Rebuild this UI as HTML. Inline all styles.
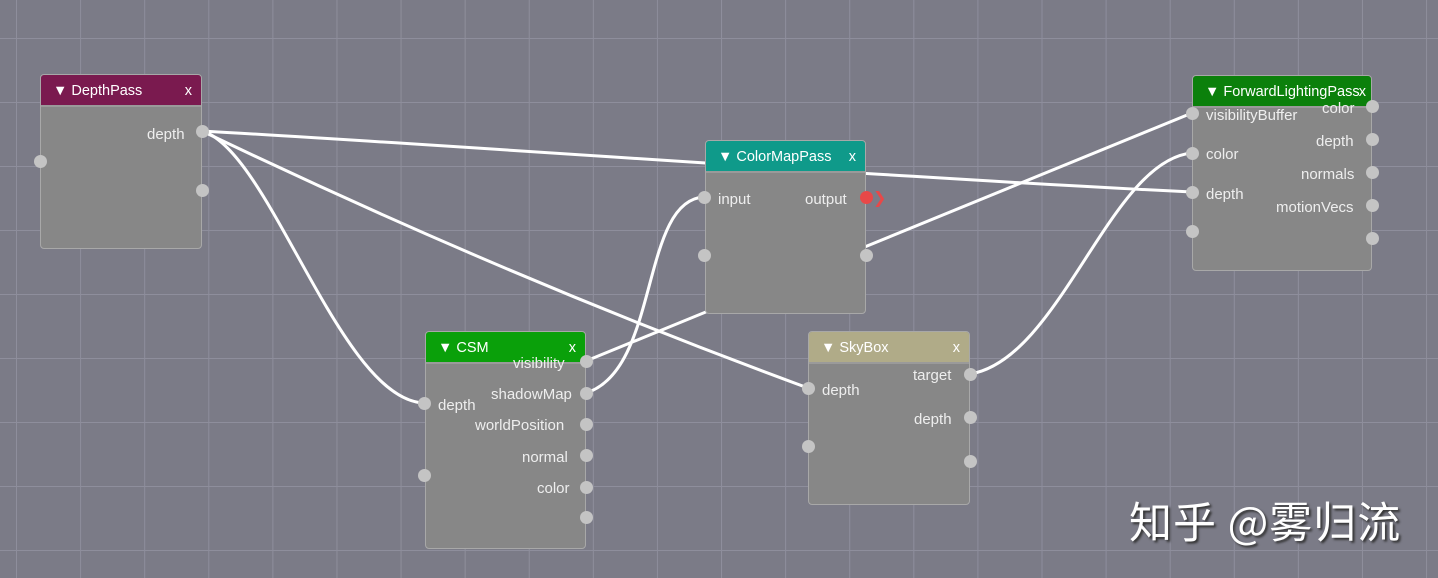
<!DOCTYPE html>
<html><head><meta charset="utf-8"><style>
body{margin:0;width:1438px;height:578px;overflow:hidden;background:#7b7b87;font-family:"Liberation Sans","DejaVu Sans",sans-serif;}
#bg{position:absolute;left:0;top:0;width:1438px;height:578px;
background-image:linear-gradient(to right,#8e8e9c 1px,transparent 1px),linear-gradient(to bottom,#8e8e9c 1px,transparent 1px);
background-size:64.1px 64px;background-position:16px 38px;}
.node{position:absolute;background:#878787;border:1px solid #a8a8a8;border-radius:4px;box-sizing:border-box;}
.hd{height:30px;border-radius:3px 3px 0 0;color:#fff;font-size:14.5px;line-height:32px;padding-left:12px;position:relative;border-bottom:2px solid #9a9a9a;}
.hd .x{position:absolute;right:9px;top:0;}
.lbl{position:absolute;color:#eee;font-size:15px;}
.p{position:absolute;width:13px;height:13px;border-radius:50%;background:#c4c4c4;margin:-6.5px 0 0 -6.5px;}
svg{position:absolute;left:0;top:0}
#wm{position:absolute;left:1129px;top:489px;font-family:"Noto Sans CJK SC",sans-serif;font-size:43px;color:#fff;text-shadow:2px 2px 2px #333;letter-spacing:1px;white-space:pre}
</style></head><body>
<div id="bg"></div>
<svg width="1438" height="578"><g fill="none" stroke="#fff" stroke-width="3">
<path d="M202 131 C500 148 900 178 1192 192"/>
<path d="M202 131 C270 150 340 400 424 403"/>
<path d="M202 131 C450 250 650 330 808 388"/>
<path d="M586 361 L1192 113"/>
<path d="M586 393 C660 370 640 200 704 197"/>
<path d="M970 374 C1060 360 1110 160 1192 153"/>
</g></svg>

<div class="node" style="left:40px;top:74px;width:162px;height:175px"><div class="hd" style="background:#7a1a4f">▼ DepthPass<span class="x">x</span></div></div>
<div class="node" style="left:705px;top:140px;width:161px;height:174px"><div class="hd" style="background:#0f9a8a">▼ ColorMapPass<span class="x">x</span></div></div>
<div class="node" style="left:1192px;top:75px;width:180px;height:196px"><div class="hd" style="background:#0b800b">▼ ForwardLightingPass<span class="x" style="right:5px">x</span></div></div>
<div class="node" style="left:425px;top:331px;width:161px;height:218px"><div class="hd" style="background:#0aa00a">▼ CSM<span class="x">x</span></div></div>
<div class="node" style="left:808px;top:331px;width:162px;height:174px"><div class="hd" style="background:#b0ab88">▼ SkyBox<span class="x">x</span></div></div>

<div class="lbl" style="left:147px;top:126px">depth</div>
<div class="lbl" style="left:718px;top:191px">input</div>
<div class="lbl" style="left:805px;top:191px">output</div>
<div class="lbl" style="left:1206px;top:107px">visibilityBuffer</div>
<div class="lbl" style="left:1206px;top:146px">color</div>
<div class="lbl" style="left:1206px;top:186px">depth</div>
<div class="lbl" style="left:1322px;top:100px">color</div>
<div class="lbl" style="left:1316px;top:133px">depth</div>
<div class="lbl" style="left:1301px;top:166px">normals</div>
<div class="lbl" style="left:1276px;top:199px">motionVecs</div>
<div class="lbl" style="left:513px;top:355px">visibility</div>
<div class="lbl" style="left:491px;top:386px">shadowMap</div>
<div class="lbl" style="left:475px;top:417px">worldPosition</div>
<div class="lbl" style="left:522px;top:449px">normal</div>
<div class="lbl" style="left:537px;top:480px">color</div>
<div class="lbl" style="left:438px;top:397px">depth</div>
<div class="lbl" style="left:822px;top:382px">depth</div>
<div class="lbl" style="left:913px;top:367px">target</div>
<div class="lbl" style="left:914px;top:411px">depth</div>

<div class="p" style="left:202px;top:131px"></div><div class="p" style="left:40px;top:161px"></div><div class="p" style="left:202px;top:190px"></div>
<div class="p" style="left:704px;top:197px"></div><div class="p" style="left:704px;top:255px"></div><div class="p" style="left:866px;top:255px"></div>
<div class="p" style="left:866px;top:197px;background:#e84848"></div>
<div style="position:absolute;left:873px;top:188px;color:#e84848;font-size:16px">❯</div>
<div class="p" style="left:1192px;top:113px"></div><div class="p" style="left:1192px;top:153px"></div><div class="p" style="left:1192px;top:192px"></div><div class="p" style="left:1192px;top:231px"></div>
<div class="p" style="left:1372px;top:106px"></div><div class="p" style="left:1372px;top:139px"></div><div class="p" style="left:1372px;top:172px"></div><div class="p" style="left:1372px;top:205px"></div><div class="p" style="left:1372px;top:238px"></div>
<div class="p" style="left:586px;top:361px"></div><div class="p" style="left:586px;top:393px"></div><div class="p" style="left:586px;top:424px"></div><div class="p" style="left:586px;top:455px"></div><div class="p" style="left:586px;top:487px"></div><div class="p" style="left:586px;top:517px"></div>
<div class="p" style="left:424px;top:403px"></div><div class="p" style="left:424px;top:475px"></div>
<div class="p" style="left:808px;top:388px"></div><div class="p" style="left:808px;top:446px"></div>
<div class="p" style="left:970px;top:374px"></div><div class="p" style="left:970px;top:417px"></div><div class="p" style="left:970px;top:461px"></div>

<div id="wm">知乎 @雾归流</div>
</body></html>
